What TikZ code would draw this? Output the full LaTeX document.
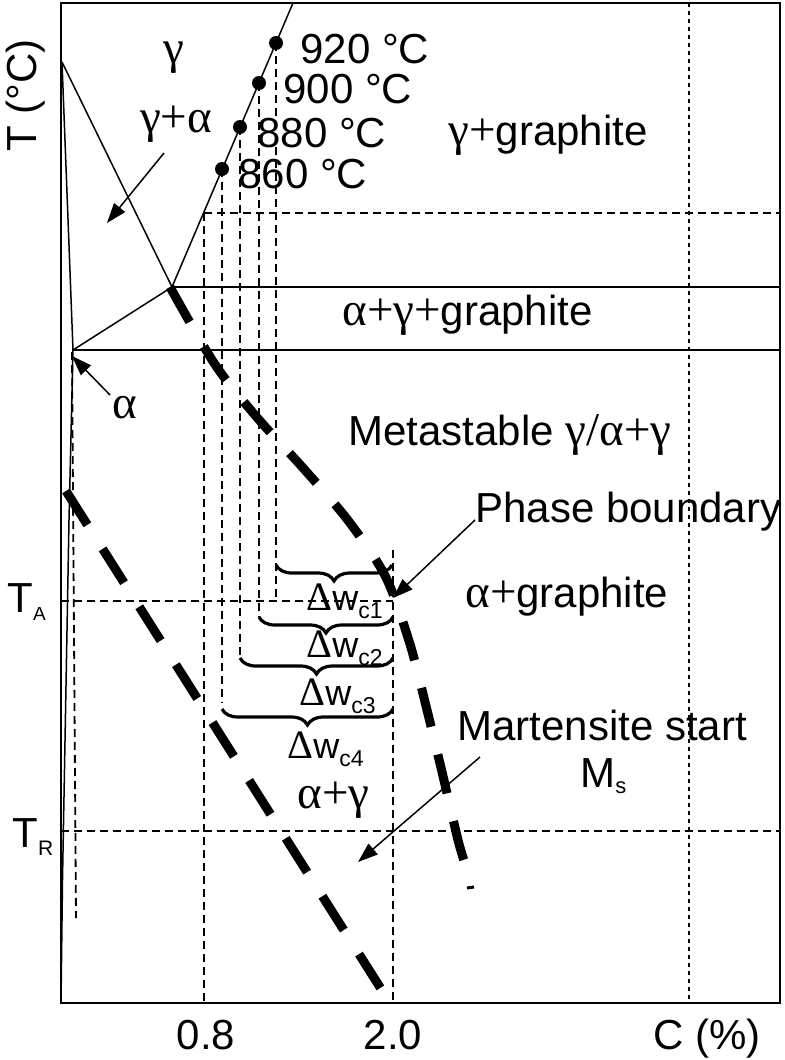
\documentclass[tikz,border=0pt]{standalone}
\usepackage{fontspec}
\setmainfont{Liberation Sans}
\newfontfamily\gr[Scale=1.12]{Liberation Serif}
\usetikzlibrary{arrows.meta,decorations.pathreplacing}
\begin{document}
\begin{tikzpicture}[x=0.5pt,y=-0.5pt,
  lbl/.style={inner sep=0pt, font=\fontsize{21}{25}\selectfont},
  dlbl/.style={inner sep=0pt, font=\fontsize{18}{21}\selectfont},
  phase/.style={line width=0.75pt},
  frame/.style={line width=1.2pt},
  dsh/.style={line width=0.9pt, dash pattern=on 4pt off 2.5pt},
  dotln/.style={line width=1pt, dash pattern=on 2pt off 2pt},
  thickdash/.style={line width=4.5pt, dash pattern=on 20pt off 14.25pt},
  arr/.style={line width=0.75pt, -{Triangle[length=10pt,width=7pt]}},
  brc/.style={decorate, decoration={brace,mirror,amplitude=8pt}, line width=1.6pt},
  dotnode/.style={circle, fill, inner sep=0pt, minimum size=7pt}]
\useasboundingbox (0,0) rectangle (785,1060);
% frame
\draw[frame] (61,3) rectangle (780,1003);
\draw[dotln] (689,3) -- (689,1003);
% phase lines
\coordinate (a) at (62,62);
\coordinate (e) at (172,287);
\coordinate (s) at (73,350);
\coordinate (t) at (293,3);
\draw[phase] (a) -- (e);
\draw[phase] (a) -- (s);
\draw[phase] (s) -- (e);
\draw[phase] (e) -- (t);
\draw[phase] (s) -- (69,520) -- (62.5,880) -- (61,1003);
\draw[phase] (e) -- (780,287);
\draw[phase] (s) -- (780,350);
% dots
\node[dotnode] (d920) at (276,43) {};
\node[dotnode] (d900) at (259,83) {};
\node[dotnode] (d880) at (240,127) {};
\node[dotnode] (d860) at (222,169) {};
% brace ends
\coordinate (b1l) at (276,565); \coordinate (b1r) at (392,565);
\coordinate (b2l) at (259,617); \coordinate (b2r) at (393,617);
\coordinate (b3l) at (240,658); \coordinate (b3r) at (393,658);
\coordinate (b4l) at (222,709); \coordinate (b4r) at (393,709);
% dashed lines
\draw[dsh] (d920.center) -- (276,597);
\draw[dsh] (d900.center) -- (b2l);
\draw[dsh] (d880.center) -- (b3l);
\draw[dsh] (d860.center) -- (222,703);
\draw[dsh] (204,213) -- (780,213);
\draw[dsh] (204,213) -- (204,1003);
\draw[dsh] (393,550) -- (393,1003);
\draw[dsh] (61,601) -- (393,601);
\draw[dsh] (61,831) -- (780,831);
\draw[dsh] (72,352) -- (76,918);
% braces
\draw[brc] (b1l) -- (b1r);
\draw[brc] (b2l) -- (b2r);
\draw[brc] (b3l) -- (b3r);
\draw[brc] (b4l) -- (b4r);
% thick dashed boundaries
\draw[thickdash] plot[smooth, tension=0.5] coordinates {(170,287) (215,364.5) (257.5,418) (304,469) (348.5,521) (385.5,576.5) (409.5,642.5) (426.5,708) (442.5,774) (458.5,842) (466,866)};
\draw[line width=1.5pt] (467,888) -- (474,887);
\draw[thickdash] (66,491) -- (383,992);
% arrows
\coordinate (ga1) at (164,153); \coordinate (ga2) at (107,223);
\coordinate (al1) at (110,395); \coordinate (al2) at (72,356);
\coordinate (pb1) at (475,520); \coordinate (pb2) at (393,598);
\coordinate (ms1) at (480,757); \coordinate (ms2) at (358,862);
\draw[arr] (ga1) -- (ga2);
\draw[arr] (al1) -- (al2);
\draw[arr] (pb1) -- (pb2);
\draw[arr] (ms1) -- (ms2);
% labels
\node[lbl, rotate=90, anchor=base west] (ylab) at (36,152) {T (°C)};
\node[lbl, anchor=base west] (ta) at (7,612) {T\raisebox{-4pt}{\fontsize{9.5}{11}\selectfont A}};
\node[lbl, anchor=base west] (tr) at (12,847) {T\raisebox{-4pt}{\fontsize{10.5}{12}\selectfont R}};
\node[lbl, anchor=base] (g) at (174,63) {\gr γ};
\node[lbl, anchor=base] (ga) at (176,132) {\gr γ+α};
\node[lbl, anchor=base west] (t920) at (300,63) {920 °C};
\node[lbl, anchor=base west] (t900) at (283,103) {900 °C};
\node[lbl, anchor=base west] (t880) at (257,147) {880 °C};
\node[lbl, anchor=base west] (t860) at (238,188) {860 °C};
\node[lbl, anchor=base west] (gg) at (448,145) {{\gr γ+}graphite};
\node[lbl, anchor=base west] (agg) at (342,325) {{\gr α+γ+}graphite};
\node[lbl, anchor=base] (al) at (125,418) {\gr α};
\node[lbl, anchor=base west] (meta) at (348,445) {Metastable {\gr γ/α+γ}};
\node[lbl, anchor=base west] (pb) at (475,522) {Phase boundary};
\node[lbl, anchor=base west] (ag) at (465,607) {{\gr α+}graphite};
\node[lbl, anchor=base west] (mart) at (457,740) {Martensite start};
\node[lbl, anchor=base west] (ms) at (580,787) {M\raisebox{-3pt}{\fontsize{11}{13}\selectfont s}};
\node[lbl, anchor=base west] (agm) at (297,808) {\gr α+γ};
\node[dlbl, anchor=base west] (w1) at (306,610) {{\gr Δ}w\raisebox{-4pt}{\fontsize{11.5}{13}\selectfont c1}};
\node[dlbl, anchor=base west] (w2) at (306,657) {{\gr Δ}w\raisebox{-4pt}{\fontsize{11.5}{13}\selectfont c2}};
\node[dlbl, anchor=base west] (w3) at (299,705) {{\gr Δ}w\raisebox{-4pt}{\fontsize{11.5}{13}\selectfont c3}};
\node[dlbl, anchor=base west] (w4) at (287,758) {{\gr Δ}w\raisebox{-4pt}{\fontsize{11.5}{13}\selectfont c4}};
\node[lbl, anchor=base] (x08) at (206,1049) {0.8};
\node[lbl, anchor=base] (x20) at (393,1049) {2.0};
\node[lbl, anchor=base west] (xc) at (653,1049) {C (\%)};
\end{tikzpicture}
\end{document}
